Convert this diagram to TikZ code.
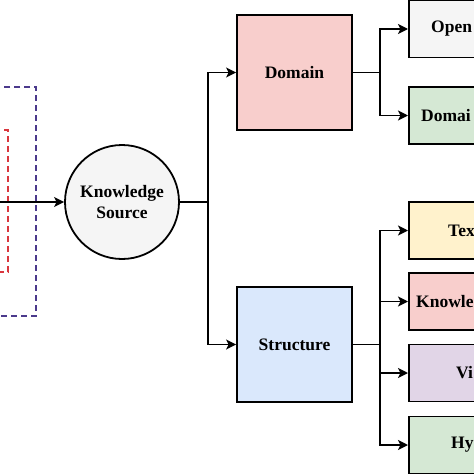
\documentclass[tikz,border=0pt]{standalone}
\usepackage{fontspec}
\setmainfont{Liberation Serif}
\usepackage{tikz}
\usetikzlibrary{shapes,arrows.meta,positioning}

\definecolor{srcgray}{HTML}{F5F5F5}
\definecolor{pinkfill}{HTML}{F8CECC}
\definecolor{bluefill}{HTML}{DAE8FC}
\definecolor{greenfill}{HTML}{D5E8D4}
\definecolor{yellowfill}{HTML}{FFF2CC}
\definecolor{purplefill}{HTML}{E1D5E7}
\definecolor{dashpurple}{HTML}{4B3A8C}
\definecolor{dashred}{HTML}{D9363E}

\begin{document}
\begin{tikzpicture}[x=1pt,y=-1pt,>={Stealth[length=10pt,width=10pt,inset=2.5pt]},
    every node/.style={font=\fontsize{17.5}{21}\selectfont\bfseries},
    box/.style={draw=black,line width=1.8pt,minimum width=115pt,minimum height=115pt,inner sep=0pt},
    leaf/.style={draw=black,line width=1.8pt,minimum width=120pt,minimum height=57pt,anchor=west,inner sep=0pt},
    leaftext/.style={anchor=west,inner sep=0pt},
    link/.style={line width=1.8pt,->},
    fork/.style={line width=1.8pt}]
    \useasboundingbox (0,0) rectangle (474,474);
    \clip (0,0) rectangle (474,474);

    % grouping boxes on the left
    \draw[dashpurple,line width=1.4pt,dash pattern=on 6pt off 4pt] (-10,87) rectangle (36,316);
    \draw[dashred,line width=1.4pt,dash pattern=on 6pt off 4pt] (-10,130) rectangle (8,272);

    % main nodes
    \node (ks) [circle,fill=srcgray,draw=black,line width=1.8pt,minimum size=114pt,align=center] at (122,202) {Knowledge\\Source};
    \node (dom) [box,fill=pinkfill] at (294.5,72.5) {Domain};
    \node (struct) [box,fill=bluefill] at (294.5,344.5) {Structure};

    % leaves
    \node (open) [leaf,fill=srcgray] at (408,29) {};
    \node (spec) [leaf,fill=greenfill] at (408,115.5) {};
    \node (text) [leaf,fill=yellowfill] at (408,230.5) {};
    \node (kg) [leaf,fill=pinkfill] at (408,301.5) {};
    \node (vis) [leaf,fill=purplefill] at (408,373) {};
    \node (hyb) [leaf,fill=greenfill] at (408,445) {};

    \node (opentxt) [leaftext] at (431,29) {Open};
    \node (spectxt) [leaftext] at (421,115.5) {Domai};
    \node (texttxt) [leaftext] at (448,230.5) {Tex};
    \node (kgtxt) [leaftext] at (416,301.5) {Knowle};
    \node (vistxt) [leaftext] at (456,373) {Vi};
    \node (hybtxt) [leaftext] at (451,445) {Hy};

    % connectors
    \coordinate (inleft) at (-5,202);
    \draw[link] (inleft) -- (ks);

    \coordinate (ksfork) at (208,202);
    \draw[fork] (ks) -- (ksfork);
    \foreach \t in {dom,struct}
        \draw[link] (ksfork) |- (\t);

    \coordinate (domfork) at (380,72.5);
    \draw[fork] (dom) -- (domfork);
    \foreach \t in {open,spec}
        \draw[link] (domfork) |- (\t);

    \coordinate (structfork) at (380,344.5);
    \draw[fork] (struct) -- (structfork);
    \foreach \t in {text,kg,vis,hyb}
        \draw[link] (structfork) |- (\t);
\end{tikzpicture}
\end{document}
